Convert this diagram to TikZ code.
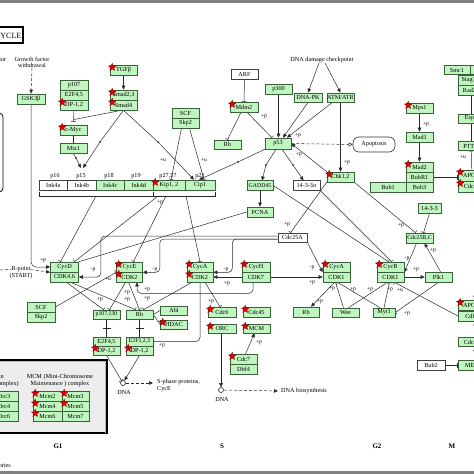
\documentclass[tikz,border=0pt]{standalone}
\usepackage{fontspec}
\setmainfont{Liberation Serif}
\usetikzlibrary{arrows.meta,shapes.geometric,calc,backgrounds}
\definecolor{kgg}{RGB}{191,245,191}
\definecolor{kgb}{RGB}{60,95,60}
\definecolor{lncol}{RGB}{40,40,40}
\definecolor{barcol}{RGB}{128,128,128}
\newcommand\kgstar[1]{\node[kstar] (#1-s) at ([xshift=2.5pt,yshift=-2.5pt]#1.north west) {};}
\tikzset{
 gb/.style={draw=kgb, fill=kgg, line width=0.6pt, minimum width=27pt, minimum height=10pt, inner sep=0pt, font=\fontsize{6.2}{7}\selectfont},
 wb/.style={gb, fill=white, draw=black!75},
 kstar/.style={star, star points=5, star point ratio=2.3, fill=red!90!black, draw=red!50!black, line width=0.3pt, minimum size=8pt, inner sep=0pt},
 tx/.style={font=\fontsize{6.2}{6.6}\selectfont, inner sep=0pt},
 lb/.style={font=\fontsize{5.6}{6}\selectfont, inner sep=0pt},
 lnk/.style={draw=lncol, line width=0.5pt},
 act/.style={lnk, -{Triangle[length=4pt,width=3.5pt]}},
 inh/.style={lnk, -{Bar[width=5pt]}},
 dsh/.style={lnk, dash pattern=on 3pt off 2pt, -{Triangle[length=4pt,width=3.5pt]}},
 dotn/.style={circle, fill=lncol, inner sep=0pt, minimum size=2.2pt},
 thk/.style={draw=gray!75, line width=2pt, -{Triangle[length=4pt,width=5.5pt,color=black]}},
 phase/.style={font=\bfseries\fontsize{7}{8}\selectfont, inner sep=0pt},
}
\begin{document}
\begin{tikzpicture}[x=1pt,y=-1pt]
\clip (0,0) rectangle (474,474);
\fill[barcol] (0,0) rectangle (474,2.5);
\fill[barcol] (0,470.5) rectangle (474,474);

% title and frames
\draw[line width=1.2pt] (-40,27) rectangle (23,43);
\node[anchor=east, font=\fontsize{8}{9}\selectfont, inner sep=0pt] (title) at (21.5,35.5) {CELL CYCLE};
\draw[line width=0.8pt, rounded corners=4pt] (-30,113) rectangle (3,192);
\node[tx, anchor=east] (gf0) at (6.5,59.5) {Growth factor};
\node[tx, align=center] (gfw) at (32,62.5) {Growth factor\\withdrawal};

% ---------------- nodes ----------------
\node[gb, minimum width=28pt] (gsk) at (31,99) {GSK3β};
\node[gb, minimum width=28pt] (p107) at (74,85) {p107};
\node[gb, minimum width=28pt] (e2f45a) at (74,95) {E2F4,5};
\node[gb, minimum width=28pt] (dp12a) at (74,105) {DP-1,2};
\node[gb] (tgfb) at (123.5,70) {TGFβ};
\node[gb] (smad23) at (123.5,95) {Smad2,3};
\node[gb] (smad4) at (123.5,105) {Smad4};
\node[gb] (cmyc) at (73.5,130) {c-Myc};
\node[gb] (miz1) at (73.5,148.5) {Miz1};

\node[wb, minimum width=28.5pt, minimum height=9.5pt] (ink4a) at (53.25,185.5) {Ink4a};
\node[wb, minimum width=28.5pt, minimum height=9.5pt] (ink4b) at (81.75,185.5) {Ink4b};
\node[gb, minimum width=28.5pt, minimum height=9.5pt] (ink4c) at (110.25,185.5) {Ink4c};
\node[gb, minimum width=28.5pt, minimum height=9.5pt] (ink4d) at (138.75,185.5) {Ink4d};
\node[tx] (lp16) at (55,176.5) {p16};
\node[tx] (lp15) at (81,176.5) {p15};
\node[tx] (lp18) at (109,176.5) {p18};
\node[tx] (lp19) at (136,176.5) {p19};
\draw[lnk] (39,192) -- (39,196) -- (153,196) -- (153,192);

\node[wb] (arf) at (244.5,74) {ARF};
\node[gb, minimum width=28pt] (mdm2) at (244,107) {Mdm2};
\node[gb] (scf1) at (185.5,113) {SCF};
\node[gb] (skp2a) at (185.5,123) {Skp2};
\node[gb] (p300) at (278.5,89) {p300};
\node[gb, minimum width=28pt, minimum height=9pt] (dnapk) at (308,97.5) {DNA-PK};
\node[gb, minimum height=9pt] (atm) at (340.5,97.5) {ATM/ATR};
\node[tx] (ddc) at (322,60) {DNA damage checkpoint};
\node[gb, minimum width=26pt, minimum height=11pt] (p53) at (278,143.5) {p53};
\node[gb, minimum height=9pt] (rbt) at (227.5,144.5) {Rb};
\node[draw=black!80, line width=0.6pt, rounded corners=6pt, minimum width=42pt, minimum height=15pt, tx] (apop) at (374,144.5) {Apoptosis};

\node[gb] (mps1) at (419.5,108) {Mps1};
\node[gb] (mad1) at (419.5,137) {Mad1};
\node[gb] (mad2) at (419.5,167) {Mad2};
\node[gb] (bubr1) at (419.5,177) {BubR1};
\node[gb] (bub3) at (419.5,187) {Bub3};
\node[gb, minimum width=36pt] (bub1) at (388,187) {Bub1};

\node[gb, minimum width=26pt, minimum height=9pt] (smc1) at (457,70) {Smc1};
\node[gb, minimum width=26pt, minimum height=9pt] (smc3) at (483,70) {Smc3};
\node[gb, minimum width=26pt] (stag) at (471,80) {Stag1,2};
\node[gb, minimum width=26pt] (rad21) at (471,90) {Rad21};
\node[gb, minimum width=26pt, minimum height=9pt] (esp1) at (471,118.5) {Esp1};
\node[gb, minimum width=26pt, minimum height=9pt] (pttg) at (471,146) {PTTG};
\node[gb, minimum width=28pt, minimum height=11pt] (apcc1) at (472,175.5) {APC/C};
\node[gb, minimum width=28pt, minimum height=11pt] (cdc20) at (472,186.5) {Cdc20};

\node[gb] (chk12) at (340.5,177) {Chk1,2};
\node[gb, minimum width=23pt] (f1433) at (429.5,208) {14-3-3};
\node[gb, font=\fontsize{5.8}{7}\selectfont] (cdc25bc) at (419.5,238) {Cdc25B,C};
\node[gb] (cycb) at (390.5,267) {CycB};
\node[gb] (cdk1b) at (390.5,277) {CDK1};
\node[gb] (cyca1) at (336.5,267) {CycA};
\node[gb] (cdk1a) at (336.5,277) {CDK1};
\node[gb] (plk1) at (438.5,277) {Plk1};

\node[gb, minimum width=32pt] (kip) at (169,185) {Kip1, 2};
\node[gb, minimum width=30pt] (cip1) at (200,185) {Cip1};
\node[tx] (lp27) at (168,176.5) {p27,57};
\node[tx] (lp21) at (200,176.5) {p21};
\draw[lnk] (153,192) -- (153,196) -- (215,196) -- (215,192);
\node[gb, minimum width=26pt, minimum height=9.5pt, font=\fontsize{5.8}{7}\selectfont] (gadd45) at (260,185.5) {GADD45};
\node[gb, minimum width=26pt] (pcna) at (260,212) {PCNA};
\node[wb, minimum height=9.5pt] (s1433) at (306.5,185.5) {14-3-3σ};
\node[wb, minimum width=29pt, minimum height=9pt] (cdc25a) at (292.5,237.5) {Cdc25A};

\node[gb, minimum width=28pt] (cycd) at (64.5,267) {CycD};
\node[gb, minimum width=28pt] (cdk46) at (64.5,277) {CDK4,6};
\node[gb, minimum width=26pt] (cyce) at (129.5,267) {CycE};
\node[gb, minimum width=26pt] (cdk2e) at (129.5,277) {CDK2};
\node[gb, minimum width=26pt] (cyca2) at (200,267) {CycA};
\node[gb, minimum width=26pt] (cdk2a) at (200,277) {CDK2};
\node[gb, minimum width=28pt] (cych) at (256,267) {CycH};
\node[gb, minimum width=28pt] (cdk7) at (256,277) {CDK7};
\node[tx] (rpt) at (21,269.5) {R-point};
\node[tx] (rst) at (21,276.5) {(START)};
\coordinate (rl) at (0,270);

\node[gb, minimum width=28pt] (scf2) at (41,307) {SCF};
\node[gb, minimum width=28pt] (skp2b) at (41,317) {Skp2};
\node[gb, minimum height=9pt, font=\fontsize{5.8}{7}\selectfont] (p107b) at (106.5,314.5) {p107,130};
\node[gb, minimum height=9pt] (rb2) at (139.5,314.5) {Rb};
\node[gb, minimum height=9pt] (e2f45b) at (106.5,341.5) {E2F4,5};
\node[gb, minimum height=9pt] (dp12b) at (106.5,350.5) {DP-1,2};
\node[gb, minimum height=9pt, font=\fontsize{5.8}{7}\selectfont] (e2f123) at (139.5,341.5) {E2F1,2,3};
\node[gb, minimum height=9pt] (dp12c) at (139.5,350.5) {DP-1,2};
\node[gb, minimum height=9pt] (abl) at (174,310.5) {Abl};
\node[gb, minimum height=9pt] (hdac) at (174,324.5) {HDAC};
\node[circle, draw=lncol, line width=0.6pt, inner sep=0pt, minimum size=5pt] (dna1) at (123,383) {};
\node[tx] (dna1t) at (124,392) {DNA};
\node[tx, anchor=north west, align=left] (sph) at (157,379) {S-phase proteins,\\CycE};

\node[gb, minimum width=28pt] (cdc6) at (222,312) {Cdc6};
\node[gb, minimum width=28pt, minimum height=9pt] (orc) at (222,328.5) {ORC};
\node[gb] (cdc45) at (256.5,312) {Cdc45};
\node[gb, minimum height=9pt] (mcm) at (256.5,328.5) {MCM};
\node[gb] (cdc7) at (243.5,359) {Cdc7};
\node[gb] (dbf4) at (243.5,369) {Dbf4};
\node[circle, draw=lncol, line width=0.6pt, inner sep=0pt, minimum size=5pt] (dna2) at (221,390) {};
\node[tx] (dna2t) at (222,399) {DNA};
\node[tx, anchor=west] (dnab) at (281,391) {DNA biosynthesis};

\node[gb, minimum width=26pt] (rb3) at (306,312) {Rb};
\node[gb, minimum height=9pt] (wee) at (345.5,312.5) {Wee};
\node[gb, minimum width=22pt, minimum height=9pt] (myt1) at (384,312.5) {Myt1};
\node[gb, minimum width=28pt, minimum height=10.5pt] (apcc2) at (472,305.5) {APC/C};
\node[gb, minimum width=28pt, minimum height=10pt] (cdh1) at (472,316) {Cdh1};
\node[gb, minimum width=28pt, minimum height=9.5pt] (cdc14) at (472,342) {Cdc14};
\node[gb, minimum width=28pt, minimum height=9.5pt] (men) at (472,365.5) {MEN};
\node[wb, minimum width=28pt, minimum height=9.5pt] (bub2) at (431,365.5) {Bub2};

% legend box
\draw[line width=1.6pt, fill=gray!14] (-20,360) rectangle (107,433);
\draw[gray!55, line width=0.8pt] (-20,361.8) -- (105.2,361.8) -- (105.2,433);
\node[tx, align=center] (mcmh) at (60,380.5) {MCM (Mini-Chromosome\\Maintenance ) complex};
\node[tx, anchor=east] (orch1) at (4,377.3) {ORC (Origin};
\node[tx, anchor=east] (orch2) at (19,383.9) {Recognition complex)};
\node[gb, minimum width=29pt] (mcm2) at (47.5,396) {Mcm2};
\node[gb, minimum width=27pt] (mcm3) at (75.5,396) {Mcm3};
\node[gb, minimum width=29pt] (mcm4) at (47.5,406) {Mcm4};
\node[gb, minimum width=27pt] (mcm5) at (75.5,406) {Mcm5};
\node[gb, minimum width=29pt] (mcm6) at (47.5,416) {Mcm6};
\node[gb, minimum width=27pt] (mcm7) at (75.5,416) {Mcm7};
\node[gb, minimum width=29pt] (orc3) at (4,396) {Orc3};
\node[gb, minimum width=29pt] (orc4) at (4,406) {Orc4};
\node[gb, minimum width=29pt] (orc6) at (4,416) {Orc6};

% phases
\node[phase] (g1) at (58,446) {G1};
\node[phase] (ph-s) at (222,446) {S};
\node[phase] (g2) at (377,446) {G2};
\node[phase] (ph-m) at (452,446) {M};
\node[tx, anchor=east] (cat) at (11,466) {Categories};

% dots and helper coordinates
\node[dotn] (d1) at (76,158) {};
\node[dotn] (d2) at (100,142) {};
\node[dotn] (d3) at (158,142) {};
\node[dotn] (d4) at (238,162) {};
\node[dotn] (d5) at (266,165) {};
\node[dotn] (d6) at (293,165) {};
\coordinate (p15in) at (81,168);
\coordinate (p15in2) at (83,168);
\coordinate (inkbr) at (96,196);
\coordinate (kb1) at (158,196);
\coordinate (kb2) at (166,196);
\coordinate (kb3) at (186,196);

% labels
\node[lb] (l1) at (264,117) {+p};
\node[lb] (l2) at (298,136) {+p};
\node[lb] (l3) at (299,155) {+p};
\node[lb] (l4) at (347,163) {+p};
\node[lb] (l5) at (426,125) {+p};
\node[lb] (l6) at (463,157) {+u};
\node[lb] (l7) at (163,160) {+u};
\node[lb] (l8) at (204,160) {+u};
\node[lb] (l9) at (287,225) {+p};
\node[lb] (l10) at (401,226) {+p};
\node[lb] (l11) at (407,259) {-p};
\node[lb] (l12) at (433,251) {+p};
\node[lb] (l13) at (416,270) {+p};
\node[lb] (l14) at (312,268) {-p};
\node[lb] (l15) at (312,283) {+p};
\node[lb] (l16) at (93,270) {-p};
\node[lb] (l17) at (155,270) {-p};
\node[lb] (l18) at (226,270) {-p};
\node[lb] (l19) at (227,283.5) {+p};
\node[lb] (l20) at (43,261) {+p};
\node[lb] (l21) at (108,279) {+u};
\node[lb] (l22) at (100,300) {+p};
\node[lb] (l23) at (127,293) {+p};
\node[lb] (l24) at (127,300) {+p};
\node[lb] (l25) at (147,299) {+p};
\node[lb] (l26) at (147,290) {+p};
\node[lb] (l27) at (162,346) {+p};
\node[lb] (l28) at (211,302) {+p};
\node[lb] (l29) at (259,343) {+p};
\node[lb] (l30) at (320,302) {+p};
\node[lb] (l31) at (332,289) {+p};
\node[lb] (l32) at (353,290) {+p};
\node[lb] (l33) at (370,290) {+p};
\node[lb] (l34) at (390,290) {+p};
\node[lb] (l35) at (400,290) {+u};
\node[lb] (l36) at (407,314) {+p};
\node[lb] (l37) at (160,203) {+p};

% ---------------- connectors ----------------
\begin{scope}[on background layer]
\draw[dsh] (gfw.south) -- (gsk.north);
\draw[act] (tgfb) -- (smad23);
\draw[inh] (dp12a.south) -- ([yshift=3pt]cmyc.north);
\draw[lnk] ([xshift=-2pt]smad4.south) -- (74,119.5);
\draw[inh] (cmyc) -- (miz1);
\draw[act] (miz1.south) -- (d1) -- (p15in);
\draw[act] (smad4.south) -- (d2) -- (p15in2);
\draw[act] (smad4.south) -- (d3) -- ([xshift=-6pt]cip1.north);
\draw[inh] (arf) -- (mdm2);
\draw[inh] ([xshift=-3pt]mdm2.south) -- (rbt.north);
\draw[inh] ([xshift=3pt]mdm2.south) -- ([xshift=-6pt]p53.north);
\draw[act] ([xshift=-3pt]ddc.south) -- (dnapk.north);
\draw[act] ([xshift=3pt]ddc.south) -- (atm.north);
\draw[act] (p300) -- (p300 |- p53.north);
\draw[act] (dnapk.south) -- ([xshift=5pt]p53.north);
\draw[act] ([xshift=-8pt]atm.south) -- ([xshift=9pt]p53.north);
\draw[act] (atm) -- (chk12);
\draw[act] (chk12.north west) -- (p53.east);
\draw[lnk, dash pattern=on 3pt off 2pt, -{Triangle[open,length=4pt,width=4pt]}] (p53.east) -- (apop.west);
\draw[act] (mps1) -- (mad1);
\draw[act] (mad1) -- (mad2);
\draw[inh] (bubr1.east) -- (bubr1.east -| apcc1.west);
\draw[inh] (esp1) -- (rad21);
\draw[inh] (pttg) -- (esp1);
\draw[inh] (apcc1) -- (pttg);
\draw[inh] ([xshift=-4pt]skp2a.south) -- ([xshift=2pt]kip.north);
\draw[inh] ([xshift=4pt]skp2a.south) -- ([xshift=4pt]cip1.north);
\draw[lnk] (p53.south west) -- (d4);
\draw[act] (d4) -- ([xshift=-1pt]cip1.north);
\draw[lnk] ([xshift=-2pt]p53.south) -- (d5);
\draw[act] (d5) -- ([xshift=2pt]gadd45.north);
\draw[lnk] ([xshift=4pt]p53.south) -- (d6);
\draw[act] (d6) -- ([xshift=-3pt]s1433.north);
\draw[act] (gadd45) -- (pcna);
\draw[inh] (chk12.south west) -- ([xshift=-2pt]cdc25a.north);
\draw[inh] (chk12.south east) -- ([xshift=-4pt]cdc25bc.north);
\draw[inh] (f1433.south) -- ([xshift=4pt]cdc25bc.north);
\draw[act] ([xshift=-3pt]cdc25bc.south) -- (cycb.south east);
\draw[act] ([xshift=2pt]plk1.north) -- ([xshift=5pt]cdc25bc.south);
\draw[act] (cdk1b) -- (plk1);
\draw[inh] (gadd45.east) -- ([xshift=-2pt]cycb.north);
\draw[inh] (s1433.south east) -- ([xshift=1pt]cycb.north);
\draw[act] (cdk7.east) -- (cdk1a.west);
\draw[act] (cdc25a.south east) -- (cyca1.south west);
% G1 block
\draw[act, rounded corners=5pt] (gsk.south) |- (cycd.west);
\draw[lnk, dash pattern=on 3pt off 2pt] (rl) -- (rpt.west);
\draw[dsh] (rpt.east) -- (cycd.south west);
\draw[inh] (inkbr) -- ([xshift=-4pt]cycd.north);
\draw[inh] (kb1) -- ([xshift=10pt]cycd.north);
\draw[inh] (kb2) -- ([xshift=4pt]cyce.north);
\draw[inh] (kb3) -- (cyca2.north);
\draw[lnk] (pcna.west) -- (cycd.north east);
\draw[act, rounded corners=4pt] ([yshift=1.5pt]cdc25a.west) -| ($(cdk46.east)+(22,0)$) -- (cdk46.east);
\draw[act, rounded corners=4pt] ([yshift=-1.5pt]cdc25a.west) -| ($(cyce.south east)+(17,0)$) -- (cyce.south east);
\draw[act, rounded corners=4pt] ([yshift=-1.5pt]cdc25a.west) -| ($(cyca2.south east)+(19,0)$) -- (cyca2.south east);
\draw[act] (cdk7.west) -- (cdk2a.east);
\draw[act, rounded corners=4pt] ([xshift=-3pt]cdk7.south) |- ($(cdk2e.south)+(7.5,11)$) -- ($(cdk2e.south)+(7.5,0)$);
\draw[inh] (scf2.east) -- (cyce.south west);
\draw[inh] ([xshift=2pt]cdk46.south) -- ([xshift=-3pt]p107b.north);
\draw[inh] ([xshift=6pt]cdk46.south) -- ([xshift=-4pt]rb2.north);
\draw[inh] ([xshift=-4pt]cdk2e.south) -- ([xshift=3pt]p107b.north);
\draw[inh] ([xshift=-1pt]cdk2e.south) -- (rb2.north);
\draw[inh] ([xshift=-8pt]cdk2a.south) -- ([xshift=4pt]rb2.north);
\draw[inh, rounded corners=4pt] (cdk2a.south) |- (e2f123.east);
\draw[inh] ([xshift=5pt]cdk2a.south) -- ([xshift=-2pt]cdc6.north);
\draw[lnk] (p107b) -- (e2f45b);
\draw[lnk] (rb2) -- (e2f123);
\draw[lnk] ($(p107b.south)!0.5!(e2f45b.north)+(-4,0)$) -- ($(p107b.south)!0.5!(e2f45b.north)+(4,0)$);
\draw[lnk] ($(rb2.south)!0.5!(e2f123.north)+(-4,0)$) -- ($(rb2.south)!0.5!(e2f123.north)+(4,0)$);
\draw[lnk] (rb2.east) -- (abl.west);
\draw[lnk] (rb2.east) -- (hdac.west);
\draw[inh] (dp12b.south) -- (dna1);
\draw[act] (dp12c.south) -- (dna1);
\draw[dsh, shorten >=4pt] (dna1) -- (dna1 -| sph.west);
\draw[act] ([xshift=2pt]cdc7.north) -- ([xshift=-2pt]mcm.south);
\draw[act] ([xshift=-1pt]orc.south) -- (dna2);
\draw[dsh, shorten >=3pt] (dna2) -- (dnab.west);
% G2/M block
\draw[act] ([xshift=-2pt]cdk1a.south) -- ([xshift=5pt]rb3.north);
\draw[inh] ([xshift=-2pt]wee.north) -- ([xshift=-1pt]cdk1a.south);
\draw[inh] ([xshift=-4pt]myt1.north) -- ([xshift=1pt]cdk1a.south);
\draw[inh] ([xshift=3pt]wee.north) -- ([xshift=-3pt]cdk1b.south);
\draw[inh] (myt1.north) -- ([xshift=-1pt]cdk1b.south);
\draw[inh] (cdh1.west) -- ([xshift=4pt]cdk1b.south);
\draw[inh] (plk1.south) -- (myt1.east);
\draw[inh] (bub2) -- (men);
\draw[thk] ([xshift=4pt]men.north) -- ([xshift=4pt]cdc14.south);
\draw[thk] ([xshift=4pt]cdc14.north) -- ([xshift=4pt]cdh1.south);
\draw[thk, dash pattern=on 4pt off 2pt] ([xshift=4pt]cdc20.south) -- ([xshift=4pt]apcc2.north);
\end{scope}

% stars
\kgstar{dp12a}\kgstar{tgfb}\kgstar{smad23}\kgstar{smad4}\kgstar{cmyc}
\kgstar{mdm2}\kgstar{mps1}\kgstar{mad2}\kgstar{apcc1}\kgstar{cdc20}
\kgstar{chk12}\kgstar{cycb}\kgstar{cyca1}\kgstar{kip}
\kgstar{cyce}\kgstar{cdk2e}\kgstar{cyca2}\kgstar{cdk2a}\kgstar{cych}
\kgstar{dp12b}\kgstar{dp12c}\kgstar{hdac}\kgstar{cdc6}\kgstar{orc}
\kgstar{cdc45}\kgstar{mcm}\kgstar{cdc7}\kgstar{apcc2}
\kgstar{mcm2}\kgstar{mcm3}\kgstar{mcm4}\kgstar{mcm5}\kgstar{mcm6}
\end{tikzpicture}
\end{document}
